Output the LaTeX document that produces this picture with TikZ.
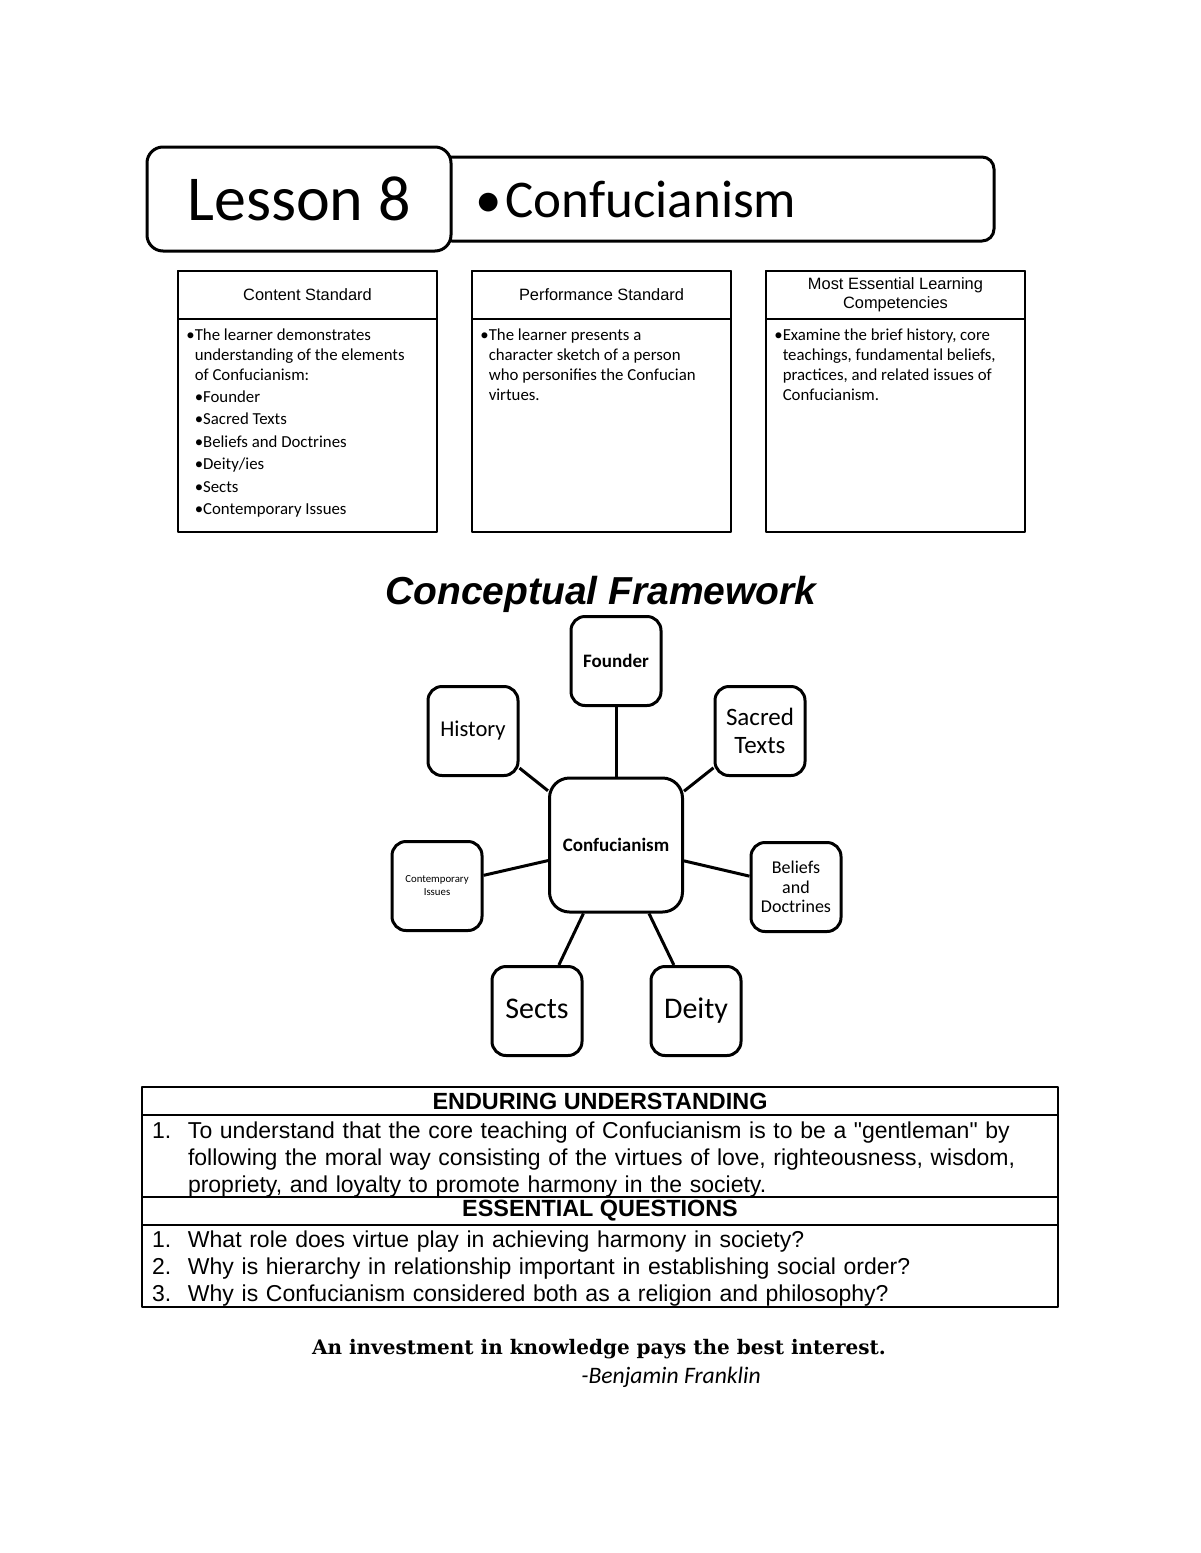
\documentclass[tikz,border=0pt]{standalone}
\usepackage{fontspec}
\setmainfont{Carlito}
\newfontfamily\arialfont{Liberation Sans}
\newfontfamily\quotefont{DejaVu Serif}
\usetikzlibrary{shapes, positioning}

\newcommand{\gap}{\phantom{\textbullet}}
\newcommand{\num}[1]{\makebox[18pt][l]{#1}}

\begin{document}
\begin{tikzpicture}[x=0.5pt, y=-0.5pt, line join=round]

	\tikzstyle{topic} = [draw, line width=1.5pt, rounded corners=7pt, fill=white, minimum width=45pt, minimum height=44.5pt, inner sep=1pt, align=center]
	
	\tikzstyle{hub} = [topic, rounded corners=10pt, minimum width=66.5pt, minimum height=67pt]
	
	\tikzstyle{line} = [draw, line width=1.5pt]
	
	\tikzstyle{frame} = [draw, line width=1.2pt, minimum width=129.5pt, minimum height=130.5pt]
	
	\tikzstyle{head} = [draw, line width=1.2pt, minimum width=129.5pt, minimum height=24pt, inner sep=1pt, align=center, font=\arialfont\fontsize{8.2}{9.3}\selectfont]
	
	\tikzstyle{bodytext} = [anchor=north west, inner sep=0pt, align=left, font=\fontsize{8.4}{10}\selectfont]
	
	\tikzstyle{rowhead} = [draw, line width=1pt, minimum width=458pt, minimum height=14pt, inner sep=0pt, font=\arialfont\bfseries\fontsize{11.7}{12}\selectfont]
	
	\tikzstyle{rowbody} = [draw, line width=1pt, minimum height=41pt, inner xsep=5pt, inner ysep=0pt, text width=448pt, text height=9pt, align=left, font=\arialfont\fontsize{11.5}{13.5}\selectfont]
	
	\useasboundingbox (0,0) rectangle (1200,1553);
	
	% title bar
	\node[draw, line width=1.5pt, rounded corners=6pt, minimum width=277pt, minimum height=42pt, inner xsep=17.5pt, text width=242pt, align=left, font=\fontsize{26.5}{32}\selectfont] (topic bar) at (717,199) {\textbullet\hspace{0.08em}Confucianism};
	\node[draw, line width=1.5pt, rounded corners=8pt, fill=white, minimum width=152pt, minimum height=52pt, font=\fontsize{32}{38}\selectfont] (lesson) at (299,199) {Lesson 8};
	
	% standards
	\node[frame] (content frame) at (307.5,401.5) {};
	\node[head] (content head) at (307.5,295) {Content Standard};
	\node[bodytext] (content text) at (186,328) {\textbullet The learner demonstrates\\ \gap understanding of the elements\\ \gap of Confucianism:\\[1.2pt] \gap\textbullet Founder\\[1.2pt] \gap\textbullet Sacred Texts\\[1.2pt] \gap\textbullet Beliefs and Doctrines\\[1.2pt] \gap\textbullet Deity/ies\\[1.2pt] \gap\textbullet Sects\\[1.2pt] \gap\textbullet Contemporary Issues};
	
	\node[frame] (performance frame) at (601.5,401.5) {};
	\node[head] (performance head) at (601.5,295) {Performance Standard};
	\node[bodytext] (performance text) at (480,328) {\textbullet The learner presents a\\ \gap character sketch of a person\\ \gap who personifies the Confucian\\ \gap virtues.};
	
	\node[frame] (melc frame) at (895.5,401.5) {};
	\node[head] (melc head) at (895.5,295) {Most Essential Learning\\Competencies};
	\node[bodytext] (melc text) at (774,328) {\textbullet Examine the brief history, core\\ \gap teachings, fundamental beliefs,\\ \gap practices, and related issues of\\ \gap Confucianism.};
	
	\node[font=\arialfont\bfseries\itshape\fontsize{19.5}{22}\selectfont] (framework title) at (601,594) {Conceptual Framework};
	
	% concept map
	\node[hub, font=\bfseries\fontsize{9.5}{11}\selectfont] (confucianism) at (616,845) {Confucianism};
	\node[topic, font=\bfseries\fontsize{9.5}{11}\selectfont] (founder) at (616,661) {Founder};
	\node[topic, font=\fontsize{11.3}{13}\selectfont] (history) at (473,731) {History};
	\node[topic, font=\fontsize{12.5}{14}\selectfont] (sacred texts) at (760,731) {Sacred\\Texts};
	\node[topic, font=\fontsize{5.4}{6.5}\selectfont] (contemporary issues) at (437,886) {Contemporary\\Issues};
	\node[topic, font=\fontsize{9}{9.8}\selectfont] (beliefs and doctrines) at (796,887) {Beliefs\\and\\Doctrines};
	\node[topic, font=\fontsize{15}{18}\selectfont] (sects) at (537,1011) {\strut Sects};
	\node[topic, font=\fontsize{15}{18}\selectfont] (deity) at (696,1011) {\strut Deity};
	
	\path [line] (confucianism) edge (founder);
	\path [line] (confucianism) edge (history);
	\path [line] (confucianism) edge (sacred texts);
	\path [line] (confucianism) edge (contemporary issues);
	\path [line] (confucianism) edge (beliefs and doctrines);
	\path [line] (confucianism) edge (sects);
	\path [line] (confucianism) edge (deity);
	
	% understanding and questions
	\node[rowhead] (enduring head) at (600,1101) {ENDURING UNDERSTANDING};
	\node[rowbody, text depth=27pt] (enduring body) at (600,1156) {\num{1.}\parbox[t]{430pt}{To understand that the core teaching of Confucianism is to be a "gentleman" by\\ following the moral way consisting of the virtues of love, righteousness, wisdom,\\ propriety, and loyalty to promote harmony in the society.}};
	\node[rowhead] (questions head) at (600,1211) {ESSENTIAL QUESTIONS};
	\node[rowbody, text depth=28pt] (questions body) at (600,1266) {\num{1.}What role does virtue play in achieving harmony in society?\\ \num{2.}Why is hierarchy in relationship important in establishing social order?\\ \num{3.}Why is Confucianism considered both as a religion and philosophy?};
	
	\node[font=\quotefont\bfseries\fontsize{10}{12}\selectfont] (quote) at (599,1349) {An investment in knowledge pays the best interest.};
	\node[font=\itshape\fontsize{11.8}{13}\selectfont] (author) at (671,1377) {-Benjamin Franklin};
	
\end{tikzpicture}
\end{document}
